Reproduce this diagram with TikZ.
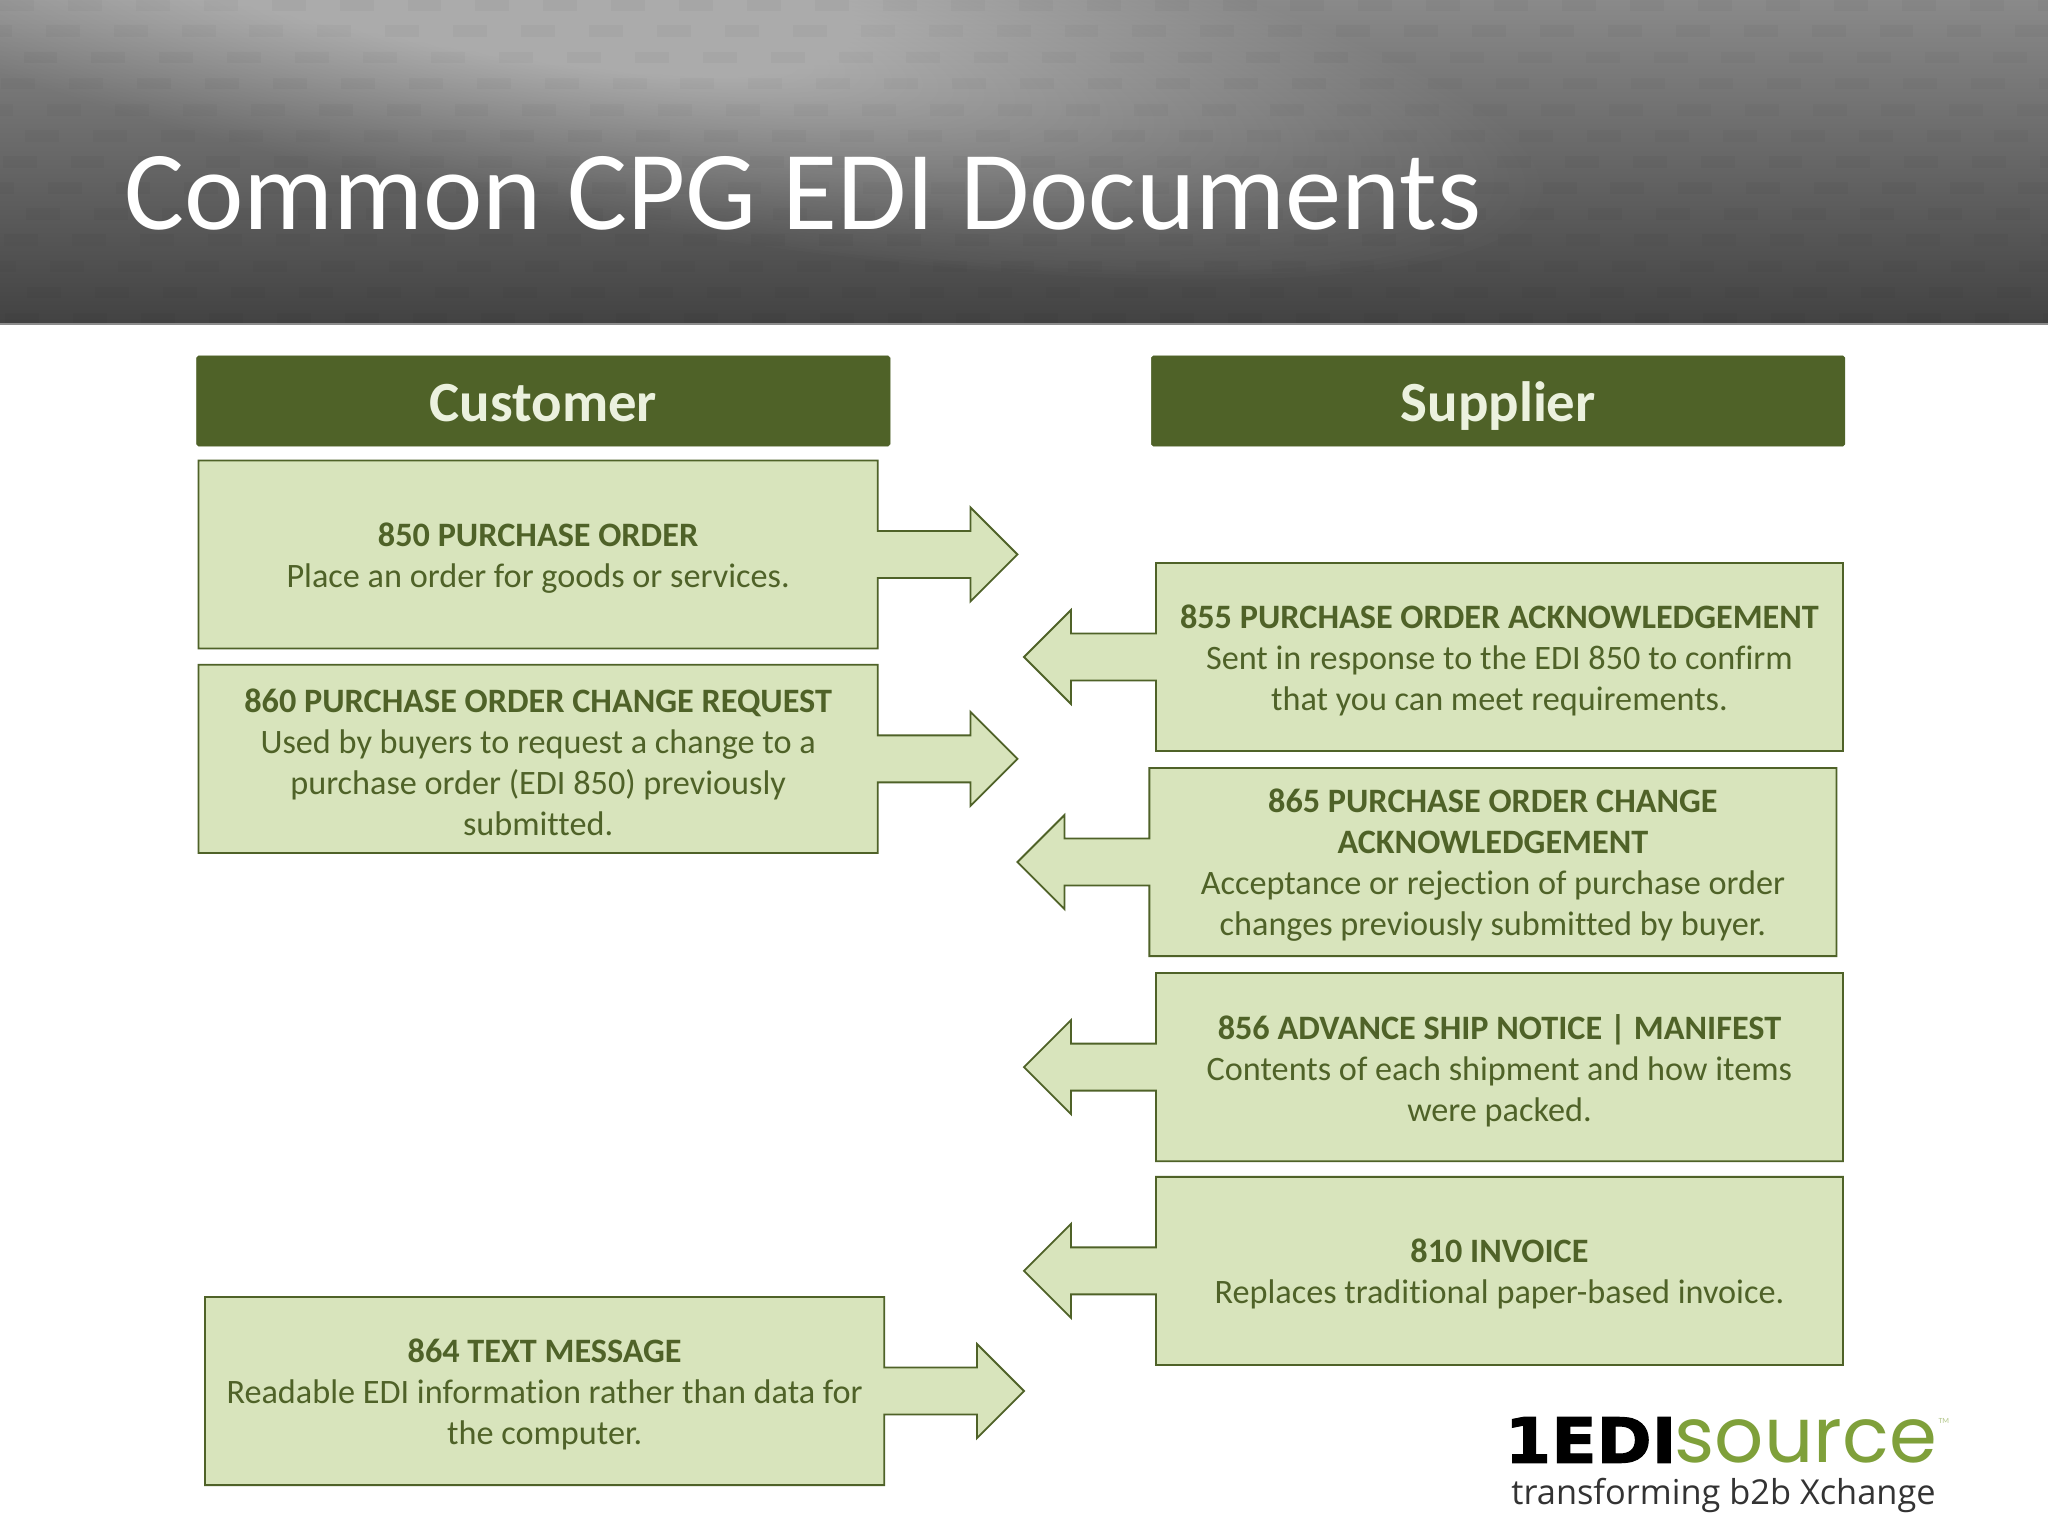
\documentclass[tikz,border=0pt]{standalone}
\usepackage{fontspec}
\setmainfont[Ligatures=NoCommon]{Carlito}
\newfontfamily\logofont{Poppins}
\newfontfamily\tagfont{Open Sans}
\newfontfamily\heavyfont[BoldFeatures={FakeBold=1.6}]{DejaVu Sans}
\usepackage{xcolor}
\definecolor{leaf}{HTML}{4F6228}
\definecolor{pale}{HTML}{D8E4BC}
\definecolor{cream}{HTML}{EBF1DE}
\definecolor{sprout}{HTML}{7FA03A}
\tikzset{
	callout/.style={draw=leaf, fill=pale, line width=1.4pt, line join=miter},
	bodytext/.style={text=leaf, align=center, inner sep=0pt, font=\fontsize{26.2}{31.4}\selectfont},
	headbar/.style={fill=leaf, draw=leaf, rounded corners=1.5pt, minimum width=531pt, minimum height=69pt, text=cream, text height=35pt, text depth=4pt, font=\fontsize{43.5}{48}\selectfont\bfseries}
}
\newcommand{\rightcall}[4]{
	\draw[callout] (#2,#3-72) -- (#2+520,#3-72) -- (#2+520,#3-18) -- (#2+591,#3-18) -- (#2+591,#3-36) -- (#2+627,#3) -- (#2+591,#3+36) -- (#2+591,#3+18) -- (#2+520,#3+18) -- (#2+520,#3+72) -- (#2,#3+72) -- cycle;
	\node[bodytext] (#1) at (#2+260,#3+2.5) {#4};
}
\newcommand{\leftcall}[4]{
	\draw[callout] (#2,#3-72) -- (#2+526,#3-72) -- (#2+526,#3+72) -- (#2,#3+72) -- (#2,#3+18) -- (#2-65,#3+18) -- (#2-65,#3+36) -- (#2-101,#3) -- (#2-65,#3-36) -- (#2-65,#3-18) -- (#2,#3-18) -- cycle;
	\node[bodytext] (#1) at (#2+263,#3+2.5) {#4};
}
\newcommand{\hd}[1]{\textbf{#1}}

\begin{document}
\begin{tikzpicture}[x=1pt,y=-1pt]
	\useasboundingbox (0,0) rectangle (1568,1176);
	\fill[white] (0,0) rectangle (1568,1176);
	\begin{scope}
		\clip (0,0) rectangle (1568,248);
		\shade[top color=black!46, middle color=black!54, bottom color=black!74] (0,0) rectangle (1568,248);
		\foreach \r in {1,...,60} {
			\fill[white, opacity=.011, rotate around={-10:(470,25)}] (470,25) ellipse (\r*12 and \r*2.4);
		};
		\foreach \r in {0,...,12} {
			\draw[black, opacity=.025, line width=9pt, dash pattern=on 26pt off 26pt, dash phase=\r*17pt] (0,\r*20+4) -- (1568,\r*20+4);
		};
	\end{scope}
	\draw[black!45, line width=1pt] (0,248) -- (1568,248);
	\node[anchor=base west, inner sep=0pt, text=white, font=\fontsize{86.2}{96}\selectfont] (title) at (95,176) {Common CPG EDI Documents};
	\node[headbar] (customer) at (416,307) {Customer};
	\node[headbar] (supplier) at (1147,307) {Supplier};
	\rightcall{po}{152}{424.5}{\hd{850 PURCHASE ORDER}\\Place an order for goods or services.}
	\rightcall{change}{152}{581}{\hd{860 PURCHASE ORDER CHANGE REQUEST}\\Used by buyers to request a change to a\\purchase order (EDI 850) previously\\submitted.}
	\rightcall{text}{157}{1065}{\hd{864 TEXT MESSAGE}\\Readable EDI information rather than data for\\the computer.}
	\leftcall{ack}{885}{503}{\hd{855 PURCHASE ORDER ACKNOWLEDGEMENT}\\Sent in response to the EDI 850 to confirm\\that you can meet requirements.}
	\leftcall{changeack}{880}{660}{\hd{865 PURCHASE ORDER CHANGE}\\\hd{ACKNOWLEDGEMENT}\\Acceptance or rejection of purchase order\\changes previously submitted by buyer.}
	\leftcall{asn}{885}{817}{\hd{856 ADVANCE SHIP NOTICE | MANIFEST}\\Contents of each shipment and how items\\were packed.}
	\leftcall{invoice}{885}{973}{\hd{810 INVOICE}\\Replaces traditional paper-based invoice.}
	\node[anchor=base west, inner sep=0pt, text=black, font=\fontsize{48}{50}\heavyfont\bfseries] (oneedi) at (1152,1120) {\scalebox{1.06}[1]{1EDI}};
	\node[anchor=base west, inner sep=0pt, text=sprout, font=\fontsize{59}{60}\logofont] (source) at (1282,1120) {source};
	\node[anchor=base west, inner sep=0pt, text=sprout!60, font=\fontsize{6}{6}\selectfont] (tm) at (1484,1090) {TM};
	\node[anchor=base west, inner sep=0pt, text=black!80, font=\fontsize{26.3}{30}\tagfont] (tagline) at (1157,1152) {transforming b2b Xchange};
\end{tikzpicture}
\end{document}
